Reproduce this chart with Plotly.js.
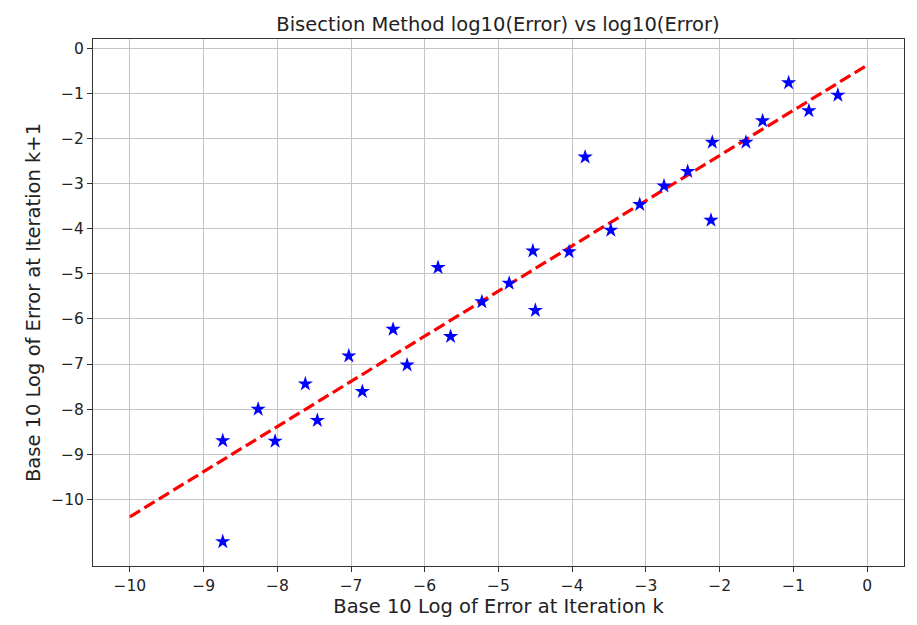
<!DOCTYPE html>
<html>
<head>
<meta charset="utf-8">
<script src="https://cdn.plot.ly/plotly-3.0.1.min.js"></script>
<style>html,body{margin:0;padding:0;background:#fff;}#chart{width:917px;height:625px;}</style>
</head>
<body>
<div id="chart"></div>
<script>
// Scatter data: log10(error) at iteration k vs at k+1
const errK = [-8.74, -8.74, -8.26, -8.03, -7.62, -7.457, -7.03, -6.847, -6.43, -6.24,
  -5.82, -5.65, -5.225, -4.855, -4.534, -4.50, -4.042, -3.825, -3.477, -3.084,
  -2.755, -2.434, -2.118, -2.10, -1.644, -1.418, -1.065, -0.79, -0.397];
const errK1 = [-8.70, -10.94, -8.00, -8.71, -7.44, -8.25, -6.82, -7.61, -6.23, -7.02,
  -4.86, -6.39, -5.62, -5.21, -4.49, -5.81, -4.51, -2.41, -4.03, -3.46,
  -3.05, -2.73, -3.81, -2.08, -2.08, -1.605, -0.76, -1.38, -1.035];
// Fitted line endpoints
const fitX = [-10, 0];
const fitY = [-10.39, -0.37];
const xTicks = [-10, -9, -8, -7, -6, -5, -4, -3, -2, -1, 0];
const yTicks = [0, -1, -2, -3, -4, -5, -6, -7, -8, -9, -10];

const font = 'DejaVu Sans, sans-serif';
const data = [
  {x: fitX, y: fitY, type: 'scatter', mode: 'lines',
   line: {color: '#ff0000', width: 3.2, dash: '12px,5px'}, hoverinfo: 'skip'},
  {x: errK, y: errK1, type: 'scatter', mode: 'markers',
   marker: {symbol: 'star', size: 11.5, color: '#0000ff', line: {width: 0}}}
];
const axisCommon = {
  showgrid: true, gridcolor: '#c4c4c4', gridwidth: 1,
  zeroline: false, showline: true, linecolor: '#333', linewidth: 1, mirror: true,
  ticks: 'outside', ticklen: 5, tickcolor: '#333', tickwidth: 1,
  tickfont: {family: font, size: 15.5, color: '#222'}
};
const layout = {
  width: 917, height: 625,
  margin: {l: 93, r: 13, t: 39, b: 59},
  paper_bgcolor: '#fff', plot_bgcolor: '#fff',
  showlegend: false,
  title: {text: 'Bisection Method log10(Error) vs log10(Error)',
    font: {family: font, size: 19.5, color: '#222'},
    x: 0.543, xanchor: 'center', y: 1 - 24/625, yanchor: 'middle', yref: 'container'},
  xaxis: Object.assign({}, axisCommon, {
    range: [-10.5, 0.5], tickmode: 'array', tickvals: xTicks,
    title: {text: 'Base 10 Log of Error at Iteration k', font: {family: font, size: 19.5, color: '#222'}, standoff: 4}
  }),
  yaxis: Object.assign({}, axisCommon, {
    range: [-11.48, 0.21], tickmode: 'array', tickvals: yTicks,
    title: {text: 'Base 10 Log of Error at Iteration k+1', font: {family: font, size: 19.5, color: '#222'}, standoff: 5}
  })
};
Plotly.newPlot('chart', data, layout, {staticPlot: true, displayModeBar: false});
</script>
</body>
</html>
